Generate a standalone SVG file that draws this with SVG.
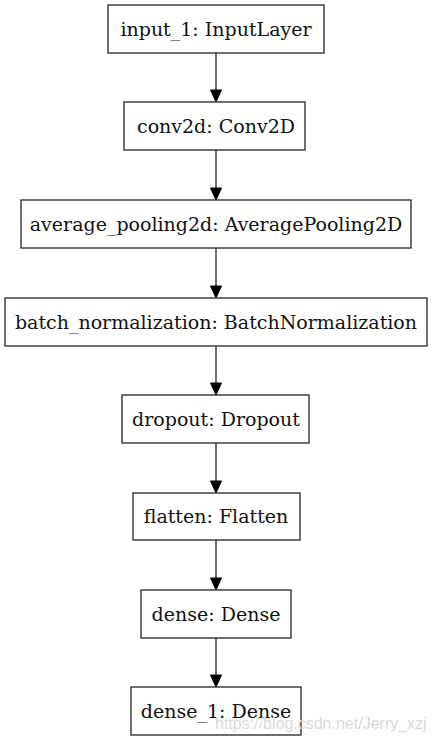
<svg xmlns="http://www.w3.org/2000/svg" width="432" height="741" viewBox="0 0 432 741">
  <style>
    .box { fill: #ffffff; stroke: #333333; stroke-width: 1.4; }
    .lbl { font-family: "DejaVu Serif", "Liberation Serif", serif; font-size: 19px; fill: #111111; text-anchor: middle; }
    .edge { stroke: #333333; stroke-width: 1.4; fill: none; }
    .head { fill: #000000; stroke: #000000; stroke-width: 1; }
    .wm { font-family: "Liberation Sans", "DejaVu Sans", sans-serif; font-size: 16px; fill: #dadada; }
  </style>
  <rect width="432" height="741" fill="#ffffff"/>

  <!-- connectors -->
  <g id="edges">
    <line class="edge" x1="216" y1="53" x2="216" y2="90"/>
    <polygon class="head" points="210.5,90 221.5,90 216,102"/>
    <line class="edge" x1="216" y1="150" x2="216" y2="188"/>
    <polygon class="head" points="210.5,188 221.5,188 216,200"/>
    <line class="edge" x1="216" y1="248" x2="216" y2="286"/>
    <polygon class="head" points="210.5,286 221.5,286 216,298"/>
    <line class="edge" x1="216" y1="346" x2="216" y2="383"/>
    <polygon class="head" points="210.5,383 221.5,383 216,395"/>
    <line class="edge" x1="216" y1="443" x2="216" y2="481"/>
    <polygon class="head" points="210.5,481 221.5,481 216,493"/>
    <line class="edge" x1="216" y1="540" x2="216" y2="578"/>
    <polygon class="head" points="210.5,578 221.5,578 216,590"/>
    <line class="edge" x1="216" y1="638" x2="216" y2="675"/>
    <polygon class="head" points="210.5,675 221.5,675 216,687"/>
  </g>

  <g id="input_1">
    <rect class="box" x="108" y="5" width="216" height="48"/>
    <text class="lbl" x="216" y="36">input_1: InputLayer</text>
  </g>
  <g id="conv2d">
    <rect class="box" x="124" y="102" width="181" height="48"/>
    <text class="lbl" x="216" y="133">conv2d: Conv2D</text>
  </g>
  <g id="average_pooling2d">
    <rect class="box" x="21" y="200" width="390" height="48"/>
    <text class="lbl" x="216" y="231">average_pooling2d: AveragePooling2D</text>
  </g>
  <g id="batch_normalization">
    <rect class="box" x="5" y="298" width="422" height="48"/>
    <text class="lbl" x="216" y="329">batch_normalization: BatchNormalization</text>
  </g>
  <g id="dropout">
    <rect class="box" x="122" y="395" width="187" height="48"/>
    <text class="lbl" x="216" y="426">dropout: Dropout</text>
  </g>
  <g id="flatten">
    <rect class="box" x="133" y="493" width="167" height="47"/>
    <text class="lbl" x="216" y="523">flatten: Flatten</text>
  </g>
  <g id="dense">
    <rect class="box" x="141" y="590" width="150" height="48"/>
    <text class="lbl" x="216" y="621">dense: Dense</text>
  </g>
  <g id="dense_1">
    <rect class="box" x="131" y="687" width="170" height="48"/>
    <text class="lbl" x="216" y="718">dense_1: Dense</text>
  </g>

  <text class="wm" x="215" y="729">https://blog.csdn.net/Jerry_xzj</text>
</svg>
